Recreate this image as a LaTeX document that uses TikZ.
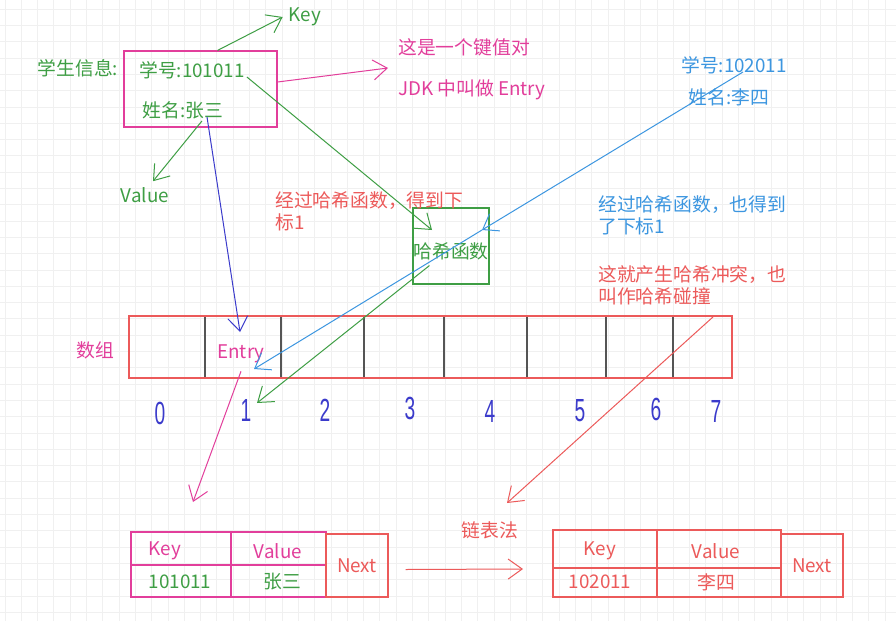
\documentclass[tikz,border=0pt]{standalone}
\usepackage{fontspec}
\setmainfont{Noto Sans CJK SC}
\newfontfamily\digitfont{Liberation Sans}
\usepackage{xcolor}
\usepackage{tikz}
\usetikzlibrary{positioning,arrows.meta,calc}
\definecolor{NoteGreen}{HTML}{3E9E44}
\definecolor{NotePink}{HTML}{E23E9B}
\definecolor{NoteRed}{HTML}{EC5A5A}
\definecolor{NoteBlue}{HTML}{3C96E0}
\definecolor{InkBlue}{HTML}{3B3BCB}
\definecolor{DivGray}{HTML}{555555}
\definecolor{GridGray}{HTML}{F0F0F0}
\newcommand{\notefont}{\fontsize{18.8}{22}\selectfont}

\begin{document}
\begin{tikzpicture}[x=1pt, y=-1pt,
    every node/.style={font=\notefont, inner sep=6pt},
    vee/.style={-{Straight Barb[length=14pt,width=20pt]}, line width=1pt},
    cell/.style={draw, line width=1.1pt, inner sep=0pt},
    idx/.style={text=InkBlue, font=\digitfont\fontsize{32}{32}\selectfont,
      xscale=0.6, transform shape}]
  \useasboundingbox (0,0) rectangle (896,621);
  \fill[white] (0,0) rectangle (896,621);
  \foreach \k in {0,...,54}
    \draw[GridGray, line width=0.7pt] (4.9+16.3*\k,0) -- ++(0,621);
  \foreach \k in {0,...,37}
    \draw[GridGray, line width=0.7pt] (0,9.1+16.3*\k) -- ++(896,0);

  % student record
  \node[text=NoteGreen] (info) at (78,68) {学生信息:};
  \node[cell, draw=NotePink, minimum width=153pt, minimum height=76pt] (stu) at (200.5,89) {};
  \node[text=NoteGreen] (sno) at (192,70) {学号:101011};
  \node[text=NoteGreen] (sname) at (183,110) {姓名:张三};
  \node[text=NoteGreen] (key) at (305,17) {Key};
  \node[text=NoteGreen] (value) at (145,195) {Value};
  \draw[vee, NoteGreen] ([xshift=17pt]stu.north) -- (key.west);
  \draw[vee, NoteGreen] ([xshift=19pt,yshift=4pt]sname.south) -- ([xshift=8pt]value.north);

  \node[text=NotePink, anchor=west] (pair) at (392,47) {这是一个键值对};
  \node[text=NotePink, anchor=west] (jdk) at (392,90) {JDK 中叫做 Entry};
  \coordinate (pairtip) at (388,68);
  \draw[vee, NotePink] ([yshift=7pt]stu.east) -- (pairtip);

  % hash function
  \node[cell, draw=NoteGreen, minimum width=76pt, minimum height=76pt] (hash) at (451,246) {};
  \node[text=NoteGreen] (hashname) at (451,251) {哈希函数};
  \node[text=NoteRed, anchor=west, align=left] (hashnote) at (269,211)
    {经过哈希函数，得到下\\标1};
  \coordinate (hitA) at (432,230);
  \draw[vee, NoteGreen] ([xshift=-4pt,yshift=-7pt]sno.east) -- (hitA);

  % second student
  \node[text=NoteBlue] (sno2) at (734,65) {学号:102011};
  \node[text=NoteBlue] (sname2) at (729,97) {姓名:李四};
  \node[text=NoteBlue, anchor=west, align=left] (samenote) at (592,215)
    {经过哈希函数，也得到\\了下标1};
  \node[text=NoteRed, anchor=west, align=left] (clash) at (592,285)
    {这就产生哈希冲突，也\\叫作哈希碰撞};

  % array
  \node[cell, draw=NoteRed, minimum width=603pt, minimum height=62pt] (arr) at (430.5,347) {};
  \foreach \x in {205,281,364,444,527,606,673}
    \draw[DivGray, line width=1.2pt] (\x,317) -- (\x,377);
  \node[text=NotePink] (arrname) at (95,350) {数组};
  \node[text=NotePink] (entry) at (241,354) {Entry};
  \foreach \i/\x/\y in {0/160/413, 1/246/410, 2/325/410, 3/410/408,
      4/490/411, 5/580/411, 6/656/409, 7/716/411}
    \node[idx] (i\i) at (\x,\y) {\i};

  \coordinate (hitB) at (482,230);
  \coordinate (cellhit) at (254,369);
  \coordinate (cell1) at (240,332);
  \coordinate (onetip) at (257,403);
  \draw[vee, NoteBlue] ([xshift=9pt,yshift=-7pt]sno2.center) -- (hitB);
  \draw[vee, NoteBlue] (hitB) -- (cellhit);
  \draw[vee, NoteGreen] ([xshift=17pt,yshift=19pt]hash.south west) -- (onetip);
  \draw[vee, InkBlue] ([xshift=24pt,yshift=8pt]sname.south) -- (cell1);

  % linked entries
  \node[cell, draw=NotePink, minimum width=195pt, minimum height=65pt] (e1) at (228.5,564.5) {};
  \draw[NotePink, line width=1.1pt] (231,532) -- (231,597) (131,565) -- (326,565);
  \node[text=NotePink] (k1) at (165,551) {Key};
  \node[text=NotePink] (v1) at (278,551) {Value};
  \node[text=NoteGreen] (kv1) at (180,582) {101011};
  \node[text=NoteGreen] (vv1) at (282,582) {张三};
  \node[cell, draw=NoteRed, text=NoteRed, minimum width=62pt, minimum height=63pt] (n1) at (357,565.5) {Next};

  \node[cell, draw=NoteRed, minimum width=228pt, minimum height=67pt] (e2) at (667,563.5) {};
  \draw[NoteRed, line width=1.1pt] (657,530) -- (657,597) (553,568) -- (781,568);
  \node[text=NoteRed] (k2) at (600,551) {Key};
  \node[text=NoteRed] (v2) at (716,551) {Value};
  \node[text=NoteRed] (kv2) at (600,582) {102011};
  \node[text=NoteRed] (vv2) at (716,582) {李四};
  \node[cell, draw=NoteRed, text=NoteRed, minimum width=62pt, minimum height=63pt] (n2) at (812,565.5) {Next};

  \node[text=NoteRed] (chain) at (490,530) {链表法};
  \coordinate (entrytip) at (193,502);
  \coordinate (chaintip) at (507,503);
  \coordinate (linktip) at (523,569);
  \draw[vee, NotePink] ([yshift=-2pt]entry.south) -- (entrytip);
  \draw[vee, NoteRed] ([xshift=121pt,yshift=-6pt]clash.south west) -- (chaintip);
  \draw[vee, NoteRed] ([xshift=17pt,yshift=-4pt]n1.east) -- (linktip);
\end{tikzpicture}
\end{document}
